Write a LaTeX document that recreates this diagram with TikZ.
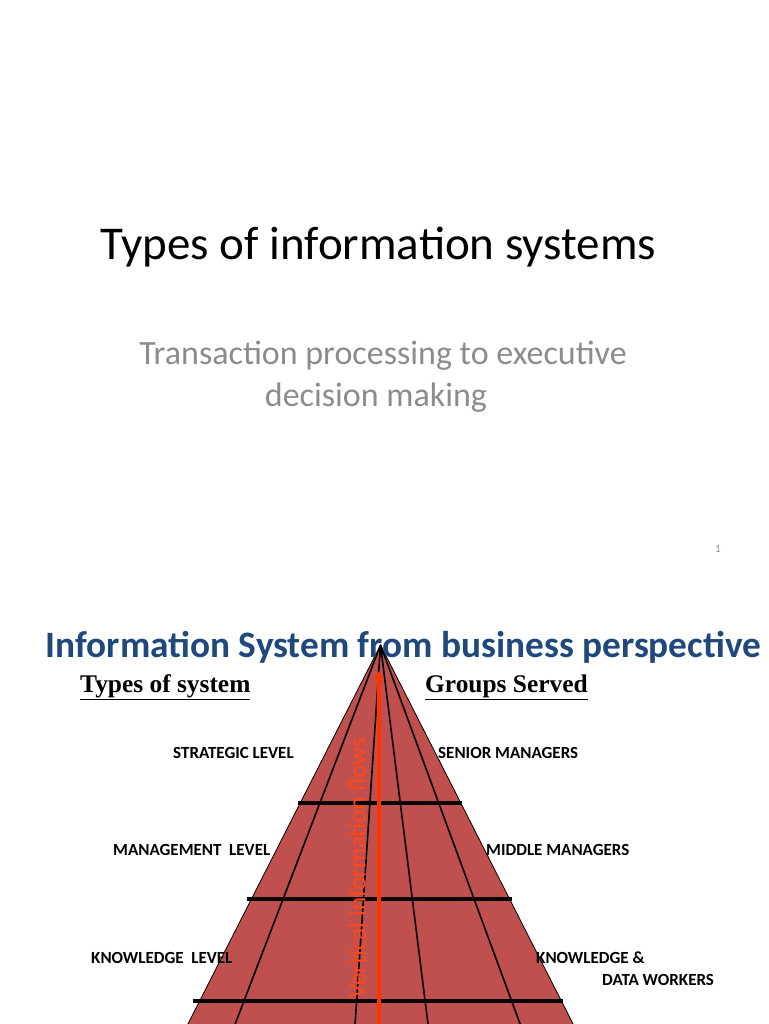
\documentclass[tikz,border=0pt]{standalone}
\usepackage{fontspec}
\setmainfont{Carlito}
\newfontfamily\timesbold{Liberation Serif}
\usetikzlibrary{arrows.meta}
\definecolor{pyramidred}{HTML}{C0504D}
\definecolor{flowred}{HTML}{FF3300}
\definecolor{titleblue}{HTML}{1F497D}
\definecolor{subgray}{HTML}{8C8C8C}

\begin{document}
\begin{tikzpicture}[x = 1pt, y = -1pt,
        level/.style = {font = \fontsize{17}{20}\selectfont\bfseries, inner sep = 0},
        heading/.style = {font = \timesbold\fontsize{25.4}{28}\selectfont\bfseries, inner sep = 0},
        bar/.style = {line width = 4pt}
    ]
    \useasboundingbox (0, 0) rectangle (768, 1024);
    \clip (0, 0) rectangle (768, 1024);

    \node (title) [anchor = base, inner sep = 0, font = \fontsize{47}{52}\selectfont] at (378.5, 259) {Types of information systems};
    \node (subtitle) [anchor = base, inner sep = 0, text = subgray, font = \fontsize{34}{42}\selectfont] at (383, 364) {Transaction processing to executive};
    \node (subtitle2) [anchor = base, inner sep = 0, text = subgray, font = \fontsize{34}{42}\selectfont] at (376, 406) {decision making};
    \node (pagenum) [inner sep = 0, text = subgray, font = \fontsize{11}{13}\selectfont] at (718, 549) {1};

    \coordinate (apex) at (380.5, 645);
    \coordinate (arrowtip) at (379, 671);
    \coordinate (arrowfoot) at (379, 1040);

    \draw [fill = pyramidred, line width = 0.8pt]
        (apex) -- (380.5 - 200.7, 1040) -- (380.5 + 200.7, 1040) -- cycle
    ;
    \draw [line width = 1.6pt]
        (apex) -- (229, 1040)
        (apex) -- (354, 1040)
        (apex) -- (430, 1040)
        (apex) -- (526, 1040)
    ;
    \draw [bar]
        (298, 803) -- (462, 803)
        (247, 899) -- (512, 899)
        (193, 1001) -- (563, 1001)
    ;

    \node (flowtext) [rotate = 90, inner sep = 0, text = flowred!90!white, font = \fontsize{25}{28}\selectfont] at (357, 868) {Vertical information flows};
    \draw [flowred, line width = 4pt, -{Stealth[length = 9pt, width = 10pt]}] (arrowfoot) -- (arrowtip);

    \node (maintitle) [anchor = base, inner sep = 0, text = titleblue, font = \fontsize{37.3}{44}\selectfont\bfseries] at (403.5, 657) {Information System from business perspective};

    \node (typeshead) [heading, anchor = base west] at (80, 692) {\underline{Types of system}};
    \node (groupshead) [heading, anchor = base west] at (425, 692) {\underline{Groups Served}};

    \node (strategic) [level, anchor = west] at (173, 753) {STRATEGIC LEVEL};
    \node (senior) [level, anchor = west] at (438, 753) {SENIOR MANAGERS};
    \node (management) [level, anchor = west] at (113, 850) {MANAGEMENT\ \ LEVEL};
    \node (middle) [level, anchor = west] at (486, 850) {MIDDLE MANAGERS};
    \node (knowledge) [level, anchor = west] at (91, 958) {KNOWLEDGE\ \ LEVEL};
    \node (workers) [level, anchor = west] at (536, 958) {KNOWLEDGE \&};
    \node (workers2) [level, anchor = west] at (602, 980) {DATA WORKERS};
\end{tikzpicture}
\end{document}
